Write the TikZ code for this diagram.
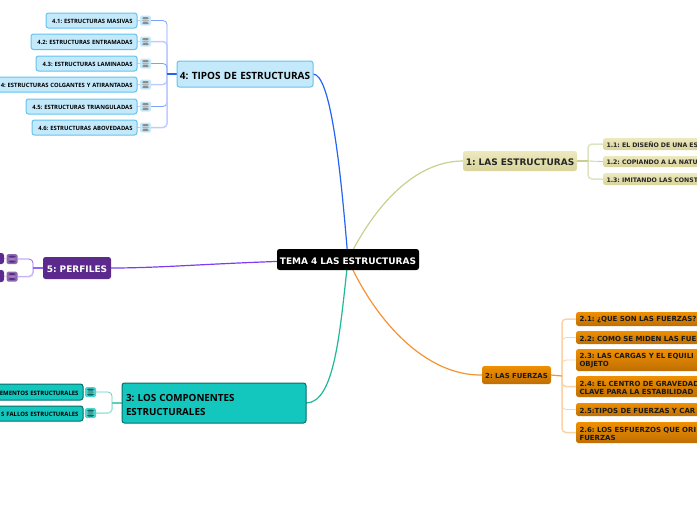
\documentclass[tikz,border=0pt]{standalone}
\usepackage{fontspec}
\setmainfont{DejaVu Sans}
\newfontfamily\opn{Open Sans}
\usetikzlibrary{backgrounds,calc}
\definecolor{blueF}{HTML}{C4E9FB}\definecolor{blueD}{HTML}{62C3EE}
\definecolor{blueL}{HTML}{2563F5}\definecolor{blueA}{HTML}{7F9FFF}\definecolor{blueB}{HTML}{BECCFF}
\definecolor{yelT}{HTML}{EDE9BF}\definecolor{yelB}{HTML}{D8D49A}
\definecolor{yelL}{HTML}{C8D08E}\definecolor{yelA}{HTML}{DDE5BE}
\definecolor{oraT}{HTML}{F09000}\definecolor{oraB}{HTML}{BE6E04}
\definecolor{oraL}{HTML}{F59332}\definecolor{oraA}{HTML}{FBD3A8}
\definecolor{tealF}{HTML}{13C6BE}\definecolor{tealD}{HTML}{056E68}
\definecolor{tealL}{HTML}{1DB998}\definecolor{tealA}{HTML}{A5E8DA}
\definecolor{purF}{HTML}{5C2A8C}\definecolor{purL}{HTML}{7C3CF0}\definecolor{purA}{HTML}{C9B5F5}
\tikzset{
 x=1pt,y=-1pt,
 base/.style={rounded corners=2.5pt,outer sep=0pt,inner xsep=3pt,inner ysep=0pt,font=\bfseries},
 root/.style={base,fill=black,text=white,font=\fontsize{9}{10}\bfseries,inner xsep=1pt,align=center},
 mainblue/.style={base,fill=blueF,draw=blueD,line width=1pt,font=\opn\fontsize{10}{12}\bfseries,align=center,inner xsep=1pt},
 subblue/.style={base,fill=blueF,draw=blueD,line width=1pt,font=\opn\fontsize{5.85}{7}\bfseries,align=right,inner xsep=4.5pt},
 mainyel/.style={base,top color=yelT,bottom color=yelB,font=\fontsize{9}{10}\bfseries,text=black!85,align=center,inner xsep=1pt},
 subyel/.style={base,top color=yelT,bottom color=yelB,font=\fontsize{6.2}{7}\bfseries,text=black!85,align=left,inner xsep=3.5pt},
 mainora/.style={base,top color=oraT,bottom color=oraB,font=\fontsize{6.9}{8}\bfseries,text=black!90,align=center,inner xsep=1pt},
 subora/.style={base,top color=oraT,bottom color=oraB,font=\fontsize{7}{8}\bfseries,text=black!90,align=left,inner xsep=3.5pt},
 mainteal/.style={base,fill=tealF,draw=tealD,line width=1pt,font=\opn\fontsize{9.8}{14}\bfseries,align=left,inner xsep=4pt},
 subteal/.style={base,fill=tealF,draw=tealD,line width=1pt,font=\opn\fontsize{5.95}{7}\bfseries,align=right,inner xsep=4.5pt},
 mainpur/.style={base,fill=purF,text=white,font=\fontsize{9}{10}\bfseries,align=center,inner xsep=1pt},
 subpur/.style={base,fill=purF},
 iconbox/.style n args={3}{rectangle,rounded corners=1.5pt,fill=#1,minimum width=11pt,minimum height=10pt,inner sep=0pt,outer sep=0pt,
   path picture={
     \fill[#2] ($(path picture bounding box.center)+(-3.5,-3.5)$) rectangle ++(7,2);
     \fill[#3] ($(path picture bounding box.center)+(-3.5,-1)$) rectangle ++(7,2);
     \fill[#2] ($(path picture bounding box.center)+(-3.5,1.5)$) rectangle ++(7,2);
   }},
 iconblue/.style={iconbox={blueF}{black!45}{black!30}},
 iconteal/.style={iconbox={tealF!75}{tealD}{tealD!70}},
 iconpur/.style={iconbox={purF!70}{purF}{purF!60}},
 mainline/.style={line width=1.2pt},
 stub/.style={line width=1.2pt},
 thinb/.style={line width=.8pt,rounded corners=4pt},
 thickb/.style={line width=1.5pt,rounded corners=4pt},
}
\newcommand\bx[7]{%
 \pgfmathsetmacro\bw{#5-#3}\pgfmathsetmacro\bh{#6-#4}%
 \node[#2,anchor=north west,minimum width=\bw pt,minimum height=\bh pt,text width=\bw pt-2*\pgfkeysvalueof{/pgf/inner xsep}] (#1) at (#3,#4) {\frenchspacing\hyphenpenalty=10000\relax\rule{0pt}{1.05em}#7};}
\begin{document}
\begin{tikzpicture}
\useasboundingbox (0,0) rectangle (697,520);
% root and main topics
\bx{root}{root}{277}{249}{419}{270}{TEMA 4 LAS ESTRUCTURAS}
\bx{n4}{mainblue}{177}{61}{313}{87}{4: TIPOS DE ESTRUCTURAS}
\bx{n1}{mainyel}{463}{151}{577}{171}{1: LAS ESTRUCTURAS}
\bx{n2}{mainora}{482}{366}{551}{384}{2: LAS FUERZAS}
\bx{n3}{mainteal}{122}{383}{306}{423}{3: LOS COMPONENTES\\ESTRUCTURALES}
\bx{n5}{mainpur}{43}{257}{111}{279}{5: PERFILES}
% 4
\bx{a1}{subblue}{46}{13}{137}{28}{4.1: ESTRUCTURAS MASIVAS}
\bx{a2}{subblue}{31}{34}{137}{49.5}{4.2: ESTRUCTURAS ENTRAMADAS}
\bx{a3}{subblue}{36}{56}{137}{71}{4.3: ESTRUCTURAS LAMINADAS}
\bx{a4}{subblue}{-12}{77}{137}{92}{4: ESTRUCTURAS COLGANTES Y ATIRANTADAS}
\bx{a5}{subblue}{26}{99}{137}{114}{4.5: ESTRUCTURAS TRIANGULADAS}
\bx{a6}{subblue}{32}{120}{137}{135}{4.6: ESTRUCTURAS ABOVEDADAS}
\node[iconblue] (ia1) at (145.5,20.5) {};
\node[iconblue] (ia2) at (145.5,41.5) {};
\node[iconblue] (ia3) at (145.5,63.5) {};
\node[iconblue] (ia4) at (145.5,84.5) {};
\node[iconblue] (ia5) at (145.5,106.5) {};
\node[iconblue] (ia6) at (145.5,127.5) {};
% 1
\bx{b1}{subyel}{603}{138}{710}{150}{1.1: EL DISEÑO DE UNA ES}
\bx{b2}{subyel}{603}{156}{710}{167}{1.2: COPIANDO A LA NATU}
\bx{b3}{subyel}{603}{173}{710}{185}{1.3: IMITANDO LAS CONST}
% 2
\bx{c1}{subora}{576}{312}{710}{326}{2.1: ¿QUE SON LAS FUERZAS?}
\bx{c2}{subora}{576}{331}{710}{344}{2.2: COMO SE MIDEN LAS FUE}
\bx{c3}{subora}{576}{349}{710}{371}{2.3: LAS CARGAS Y EL EQUILI\\OBJETO}
\bx{c4}{subora}{576}{376}{710}{397}{2.4: EL CENTRO DE GRAVEDAD\\CLAVE PARA LA ESTABILIDAD}
\bx{c5}{subora}{576}{403}{710}{416}{2.5:TIPOS DE FUERZAS Y CAR}
\bx{c6}{subora}{576}{422}{710}{443}{2.6: LOS ESFUERZOS QUE ORI\\FUERZAS}
% 3
\bx{d1}{subteal}{-12}{384}{83}{400}{EMENTOS ESTRUCTURALES}
\bx{d2}{subteal}{-12}{406}{83}{421}{S FALLOS ESTRUCTURALES}
\node[iconteal] (id1) at (90.5,392) {};
\node[iconteal] (id2) at (90.5,413) {};
% 5
\bx{e1}{subpur}{-12}{253}{4}{264}{}
\bx{e2}{subpur}{-12}{270}{4}{282}{}
\node[iconpur] (ie1) at (12,259) {};
\node[iconpur] (ie2) at (12,276.5) {};
% bracket elbows
\coordinate (k4) at (167,74);
\coordinate (k1) at (588,161);
\coordinate (k2) at (562,376);
\coordinate (k3) at (112,403);
\coordinate (k5) at (33,268);
\begin{pgfonlayer}{background}
 % main branches
 \draw[mainline,blueL] (root.center) .. controls (340,160) and (330,74) .. (n4.east);
 \draw[mainline,yelL] (root.center) .. controls (375,205) and (415,161) .. (n1.west);
 \draw[mainline,oraL] (root.center) .. controls (375,320) and (425,376) .. (n2.west);
 \draw[mainline,tealL] (root.center) .. controls (340,330) and (335,403) .. (n3.east);
 \draw[mainline,purL] (root.center) .. controls (220,262) and (170,268) .. (n5.east);
 % 4
 \foreach \i/\s/\c in {1/thinb/blueA,2/thickb/blueB,3/thinb/blueA,4/thickb/blueB,5/thinb/blueA,6/thickb/blueB}{
   \draw[\s,\c] (k4) |- (ia\i.east);
   \draw[blueB,line width=.6pt] (ia\i.west) -- (a\i.east);
 }
 \draw[stub,blueL] (n4.west) -- (k4);
 % 1
 \draw[thickb,yelA] (k1) |- (b1.west);
 \draw[thinb,yelL] (k1) -- (b2.west);
 \draw[thickb,yelA] (k1) |- (b3.west);
 \draw[stub,yelL] (n1.east) -- (k1);
 % 2
 \foreach \i/\s in {1/thickb,2/thinb,3/thinb,4/thickb,5/thinb,6/thickb}{
   \draw[\s,oraA] (k2) |- (c\i.west);
 }
 \draw[stub,oraL] (n2.east) -- (k2);
 % 3
 \draw[thinb,tealL!70] (k3) |- (id1.east);
 \draw[thickb,tealA] (k3) |- (id2.east);
 \draw[stub,tealL!70] (n3.west) -- (k3);
 \draw[tealA,line width=.6pt] (id1.west) -- (d1.east) (id2.west) -- (d2.east);
 % 5
 \draw[thinb,purL!80] (k5) |- (ie1.east);
 \draw[thickb,purA] (k5) |- (ie2.east);
 \draw[stub,purL!80] (n5.west) -- (k5);
 \draw[purA,line width=.6pt] (ie1.west) -- (e1.east) (ie2.west) -- (e2.east);
\end{pgfonlayer}
\end{tikzpicture}
\end{document}
